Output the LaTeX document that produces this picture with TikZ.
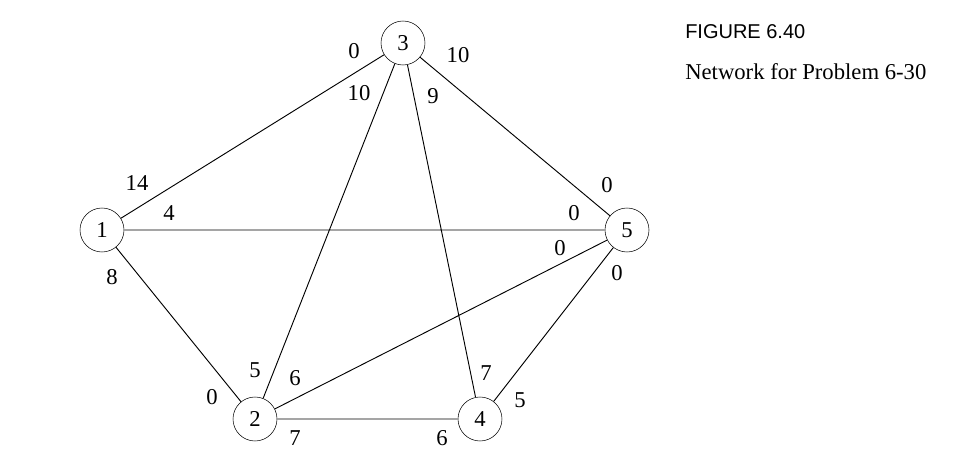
\documentclass[tikz,border=0pt]{standalone}
\usepackage{fontspec}
\setmainfont{Liberation Serif}
\newfontfamily\titlefont{Liberation Sans}
\begin{document}
\begin{tikzpicture}[x=0.75pt,y=-0.75pt,
  vert/.style={circle,draw,minimum size=33pt,inner sep=0pt,font=\fontsize{17}{19}\selectfont},
  lab/.style={font=\fontsize{17}{19}\selectfont,inner sep=0pt},
  edge/.style={draw,line width=0.7pt}]
\useasboundingbox (0,0) rectangle (978,466);
\node[vert] (n1) at (102,230) {1};
\node[vert] (n3) at (403,43) {3};
\node[vert] (n5) at (627,230) {5};
\node[vert] (n2) at (255,419) {2};
\node[vert] (n4) at (480,419) {4};
\draw[edge] (n1)--(n3) (n1)--(n5) (n1)--(n2) (n3)--(n5) (n3)--(n2) (n3)--(n4)
  (n5)--(n2) (n5)--(n4) (n2)--(n4);
\node[lab] (a1) at (354,51) {0};
\node[lab] (a2) at (458,55) {10};
\node[lab] (a3) at (359,93) {10};
\node[lab] (a4) at (433,96) {9};
\node[lab] (a5) at (137,183) {14};
\node[lab] (a6) at (169,213) {4};
\node[lab] (a7) at (112,277) {8};
\node[lab] (a8) at (607,185) {0};
\node[lab] (a9) at (574,213) {0};
\node[lab] (a10) at (560,248) {0};
\node[lab] (a11) at (617,273) {0};
\node[lab] (a12) at (255,370) {5};
\node[lab] (a13) at (295,378) {6};
\node[lab] (a14) at (212,397) {0};
\node[lab] (a15) at (295,438) {7};
\node[lab] (a16) at (442,438) {6};
\node[lab] (a17) at (486,373) {7};
\node[lab] (a18) at (520,400) {5};
\node[anchor=west,inner sep=0pt,font=\titlefont\fontsize{15}{17}\selectfont] (t1) at (685,32) {FIGURE 6.40};
\node[anchor=west,inner sep=0pt,font=\fontsize{17}{19}\selectfont] (t2) at (685,72) {Network for Problem 6-30};
\end{tikzpicture}
\end{document}
